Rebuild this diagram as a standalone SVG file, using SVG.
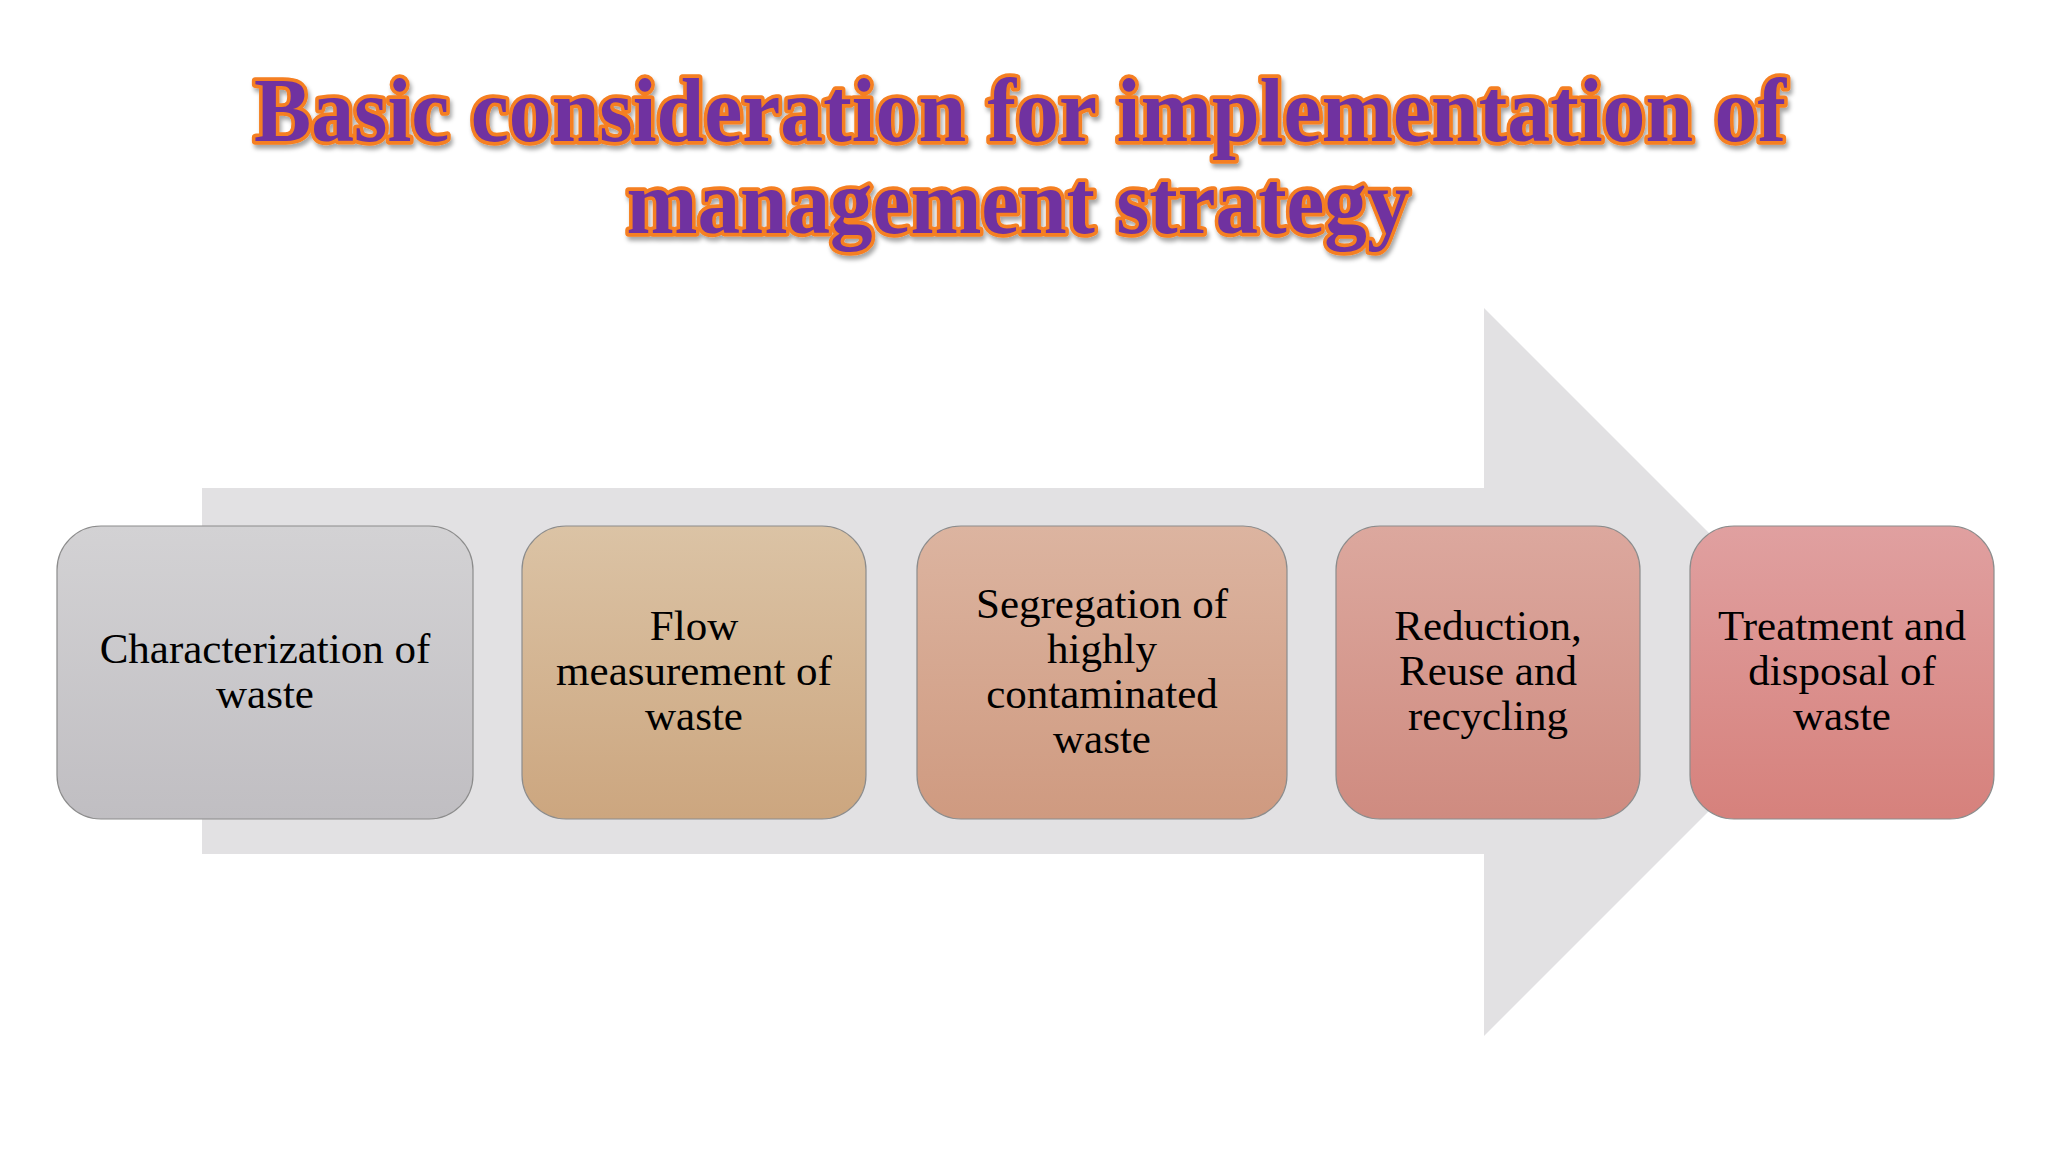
<svg xmlns="http://www.w3.org/2000/svg" width="2048" height="1152" viewBox="0 0 2048 1152">
  <style>
    .title { font-family: "Liberation Serif", "Times New Roman", serif; font-weight: bold; font-size: 90px; fill: #7030a0; stroke: #f57f20; stroke-width: 7.5px; stroke-linejoin: round; paint-order: stroke; }
    .box { stroke: #8c8c8c; stroke-width: 1.2; }
    .lbl { font-family: "Liberation Serif", "Times New Roman", serif; font-size: 43px; fill: #000; text-anchor: middle; }
  </style>
  <defs>
    <filter id="shadow" x="-5%" y="-20%" width="110%" height="150%">
      <feDropShadow dx="2" dy="4" stdDeviation="2" flood-color="#000" flood-opacity="0.35"/>
    </filter>
    <linearGradient id="g1" x1="0" y1="0" x2="0" y2="1">
      <stop offset="0" stop-color="#d3d2d4"/>
      <stop offset="1" stop-color="#c0bec2"/>
    </linearGradient>
    <linearGradient id="g2" x1="0" y1="0" x2="0" y2="1">
      <stop offset="0" stop-color="#dbc3a5"/>
      <stop offset="1" stop-color="#cca67f"/>
    </linearGradient>
    <linearGradient id="g3" x1="0" y1="0" x2="0" y2="1">
      <stop offset="0" stop-color="#dcb4a0"/>
      <stop offset="1" stop-color="#cf9a80"/>
    </linearGradient>
    <linearGradient id="g4" x1="0" y1="0" x2="0" y2="1">
      <stop offset="0" stop-color="#dca89e"/>
      <stop offset="1" stop-color="#cf8b80"/>
    </linearGradient>
    <linearGradient id="g5" x1="0" y1="0" x2="0" y2="1">
      <stop offset="0" stop-color="#e0a0a0"/>
      <stop offset="1" stop-color="#d6817c"/>
    </linearGradient>
  </defs>
  <rect width="2048" height="1152" fill="#ffffff"/>

  <g id="title" filter="url(#shadow)">
    <text class="title" x="1020" y="141" text-anchor="middle" textLength="1532" lengthAdjust="spacingAndGlyphs">Basic consideration for implementation of</text>
    <text class="title" x="1018" y="233" text-anchor="middle" textLength="783" lengthAdjust="spacingAndGlyphs">management strategy</text>
  </g>

  <g id="connectors">
    <path id="big-arrow" d="M202,488 H1484 V308 L1848,672 L1484,1036 V854 H202 Z" fill="#e2e1e3"/>
  </g>

  <g id="node1">
    <rect class="box" x="57" y="526" width="416" height="293" rx="44" fill="url(#g1)"/>
    <text class="lbl" x="265"><tspan x="265" y="663">Characterization of</tspan><tspan x="265" y="708">waste</tspan></text>
  </g>
  <g id="node2">
    <rect class="box" x="522" y="526" width="344" height="293" rx="44" fill="url(#g2)"/>
    <text class="lbl" x="694"><tspan x="694" y="640">Flow</tspan><tspan x="694" y="685">measurement of</tspan><tspan x="694" y="730">waste</tspan></text>
  </g>
  <g id="node3">
    <rect class="box" x="917" y="526" width="370" height="293" rx="44" fill="url(#g3)"/>
    <text class="lbl" x="1102"><tspan x="1102" y="618">Segregation of</tspan><tspan x="1102" y="663">highly</tspan><tspan x="1102" y="708">contaminated</tspan><tspan x="1102" y="753">waste</tspan></text>
  </g>
  <g id="node4">
    <rect class="box" x="1336" y="526" width="304" height="293" rx="44" fill="url(#g4)"/>
    <text class="lbl" x="1488"><tspan x="1488" y="640">Reduction,</tspan><tspan x="1488" y="685">Reuse and</tspan><tspan x="1488" y="730">recycling</tspan></text>
  </g>
  <g id="node5">
    <rect class="box" x="1690" y="526" width="304" height="293" rx="44" fill="url(#g5)"/>
    <text class="lbl" x="1842"><tspan x="1842" y="640">Treatment and</tspan><tspan x="1842" y="685">disposal of</tspan><tspan x="1842" y="730">waste</tspan></text>
  </g>
</svg>
